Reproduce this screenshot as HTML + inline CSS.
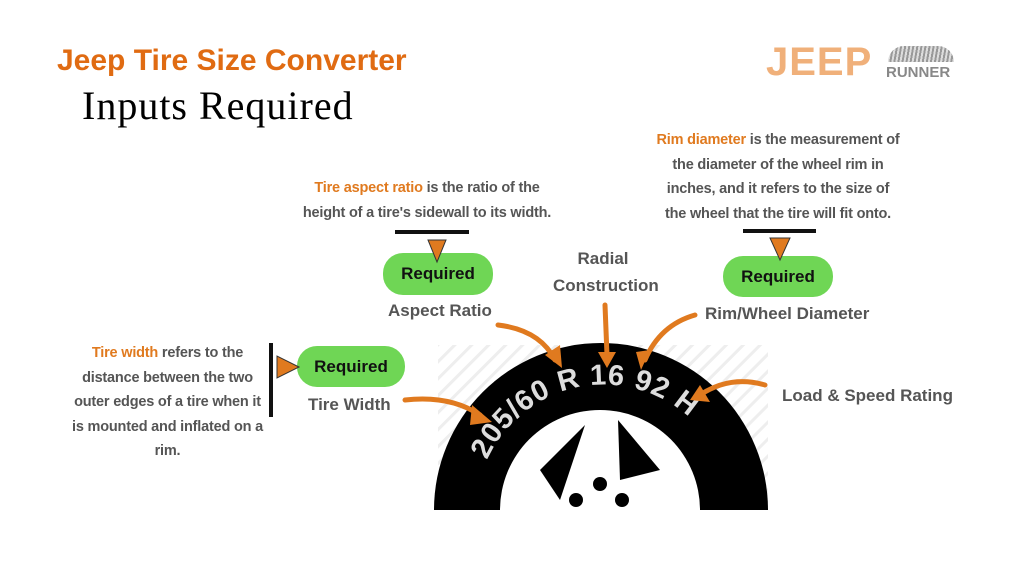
<!DOCTYPE html>
<html><head><meta charset="utf-8"><style>
body{margin:0;width:1024px;height:576px;background:#fff;position:relative;overflow:hidden;font-family:"Liberation Sans",sans-serif}
.a{position:absolute}
.g{color:#555;font-weight:bold}
.o{color:#e07a1f}
.pill{position:absolute;background:#6fd655;border-radius:20px;color:#111;font-weight:bold;font-size:17px;text-align:center}
.p{font-size:14.5px;line-height:24.5px;color:#555;font-weight:bold;text-align:center;white-space:nowrap;letter-spacing:-0.2px}
</style></head><body>
<div class="a" style="left:57px;top:44px;font-size:30px;font-weight:bold;color:#e06b12;">Jeep Tire Size Converter</div>
<div class="a" style="left:82px;top:82px;font-size:40px;color:#000;font-family:'Liberation Serif',serif;letter-spacing:1px">Inputs Required</div>
<div class="a" style="left:766px;top:40px;font-size:40px;font-weight:bold;color:#f0b07a;letter-spacing:1px">JEEP</div>
<div class="a" style="left:886px;top:64px;font-size:15px;font-weight:bold;color:#888">RUNNER</div>
<div class="a" style="left:888px;top:46px;width:66px;height:16px;background:repeating-linear-gradient(100deg,#999 0 2px,#ddd 2px 4px);border-radius:40px 40px 0 0"></div>

<div class="a p" style="left:292px;top:176px;width:270px"><span class="o">Tire aspect ratio</span> is the ratio of the<br>height of a tire's sidewall to its width.</div>
<div class="a p" style="left:638px;top:128px;width:280px"><span class="o">Rim diameter</span> is the measurement of<br>the diameter of the wheel rim in<br>inches, and it refers to the size of<br>the wheel that the tire will fit onto.</div>
<div class="a p" style="left:60px;top:341px;width:215px"><span class="o">Tire width</span> refers to the<br>distance between the two<br>outer edges of a tire when it<br>is mounted and inflated on a<br>rim.</div>

<div class="a" style="left:395px;top:230px;width:74px;height:4px;background:#111"></div>
<div class="a" style="left:743px;top:229px;width:73px;height:4px;background:#111"></div>
<div class="a" style="left:269px;top:343px;width:4px;height:74px;background:#111"></div>

<div class="pill" style="left:383px;top:253px;width:110px;height:42px;line-height:42px">Required</div>
<div class="pill" style="left:723px;top:256px;width:110px;height:41px;line-height:41px">Required</div>
<div class="pill" style="left:297px;top:346px;width:108px;height:41px;line-height:41px">Required</div>

<div class="a g" style="left:388px;top:301px;font-size:17px">Aspect Ratio</div>
<div class="a g" style="left:705px;top:304px;font-size:17px">Rim/Wheel Diameter</div>
<div class="a g" style="left:308px;top:395px;font-size:17px">Tire Width</div>
<div class="a g" style="left:553px;top:245px;font-size:17px;text-align:center;line-height:27px;width:100px">Radial<br>Construction</div>
<div class="a g" style="left:782px;top:386px;font-size:17px">Load &amp; Speed Rating</div>

<svg class="a" style="left:0;top:0" width="1024" height="576">
<polygon points="428,240 446,240 437,262" fill="#e07a1f" stroke="#333" stroke-width="1"/>
<polygon points="770,238 790,238 780,260" fill="#e07a1f" stroke="#333" stroke-width="1"/>
<polygon points="277,356 277,378 299,367" fill="#e07a1f" stroke="#333" stroke-width="1"/>
<defs><pattern id="st" width="12" height="12" patternUnits="userSpaceOnUse" patternTransform="rotate(45)"><rect width="12" height="12" fill="#fff"/><rect width="3" height="12" fill="#eee"/></pattern>
<path id="arc" d="M 487,460 A 128,128 0 0 1 718,455"/></defs>
<rect x="438" y="345" width="330" height="165" fill="url(#st)"/>
<path d="M 434,510 A 167,167 0 0 1 768,510 Z" fill="#000"/>
<path d="M 500,510 A 100,100 0 0 1 700,510 Z" fill="#fff"/>
<path d="M 540,470 L 585,425 L 560,500 Z" fill="#000"/>
<path d="M 618,420 L 660,470 L 620,480 Z" fill="#000"/>
<circle cx="600" cy="484" r="7" fill="#000"/>
<circle cx="576" cy="500" r="7" fill="#000"/>
<circle cx="622" cy="500" r="7" fill="#000"/>
<text font-size="29" font-weight="bold" fill="#ddd" font-family="Liberation Sans"><textPath href="#arc" textLength="240" lengthAdjust="spacing">205/60 R 16 92 H</textPath></text>
<g stroke="#e07a1f" stroke-width="5" fill="none" stroke-linecap="round">
<path d="M 405,400 Q 450,395 480,415"/><path d="M 498,325 Q 540,330 555,360"/>
<path d="M 605,305 L 607,355"/><path d="M 695,315 Q 660,325 645,360"/>
<path d="M 765,385 Q 730,375 700,395"/></g>
<g fill="#e07a1f"><polygon points="472,405 492,422 470,425"/><polygon points="545,355 562,368 560,345"/>
<polygon points="598,352 616,352 607,368"/><polygon points="636,352 650,350 641,370"/><polygon points="700,385 710,402 690,400"/></g>
</svg>
</body></html>
